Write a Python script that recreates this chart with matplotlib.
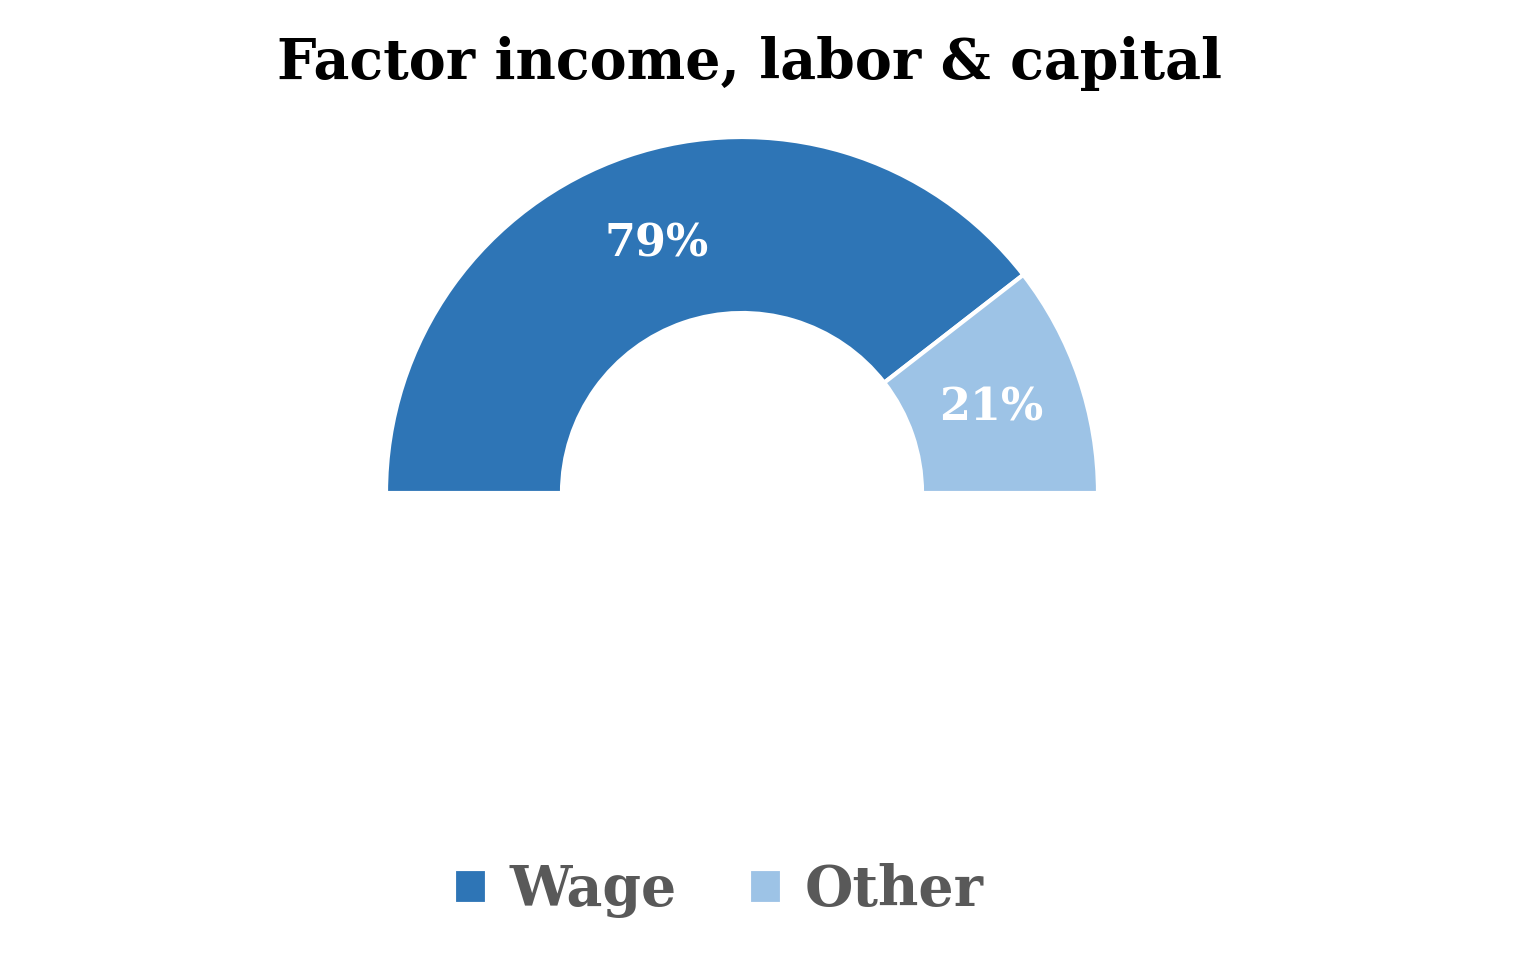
import matplotlib.pyplot as plt

# data
labels = ['Wage', 'Other']
shares = [79, 21]
colors = ['#2E75B6', '#9DC3E6']

plt.rcParams['font.family'] = ['DejaVu Serif']

fig = plt.figure(figsize=(15.36, 9.63), dpi=100)
ax = fig.add_axes([0, 0, 1, 1])

# half donut: a hidden wedge fills the bottom half
vals = shares + [sum(shares)]
wedges, texts, autotexts = ax.pie(
    vals, colors=colors + ['white'], startangle=180, counterclock=False,
    center=(742, 470), radius=356,
    wedgeprops=dict(width=176, edgecolor='white', linewidth=3),
    autopct=lambda p: f'{p * 2:.0f}%' if p < 50 else '',
    pctdistance=0.74, frame=True,
    textprops=dict(color='white', fontsize=32, fontweight='bold'))
wedges[2].set_visible(False)
ax.set_xlim(0, 1536)
ax.set_ylim(0, 963)
ax.set_aspect('equal')
ax.axis('off')

fig.text(0.488, 0.934, 'Factor income, labor & capital', ha='center', va='center',
         fontsize=40, fontweight='bold', color='black')

leg = fig.legend(wedges[:2], labels, loc='center', bbox_to_anchor=(0.468, 0.075),
                 ncol=2, frameon=False, fontsize=40, handlelength=0.6, handleheight=0.6,
                 handletextpad=0.4, columnspacing=1.3)
for t in leg.get_texts():
    t.set_color('#595959')
    t.set_fontweight('bold')

fig.savefig('out.png', dpi=100)
